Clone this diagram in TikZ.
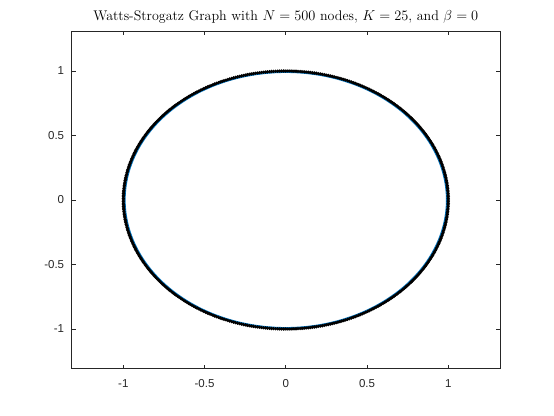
\documentclass[tikz,border=0pt]{standalone}
\usepackage{fontspec}
\newfontfamily\axisfont{Liberation Sans}
\definecolor{axisgray}{RGB}{38,38,38}
\definecolor{edgeblue}{RGB}{0,114,189}
\tikzset{
  ticklabel/.style={font=\axisfont\fontsize{11.5}{13}\selectfont, text=axisgray, inner sep=0pt},
  plottitle/.style={font=\fontsize{14}{16}\selectfont, inner sep=0pt}
}
\begin{document}
\begin{tikzpicture}[x=162.5pt,y=129pt]
\useasboundingbox (-1.7588,-1.6667) rectangle (1.6505,1.5504);
\foreach \i in {0,...,524} \coordinate (n\i) at ({\i*0.72}:1);
\draw[edgeblue, line width=0.7pt] \foreach \i in {0,...,499} {
  \foreach \k [evaluate=\k as \j using int(\i+\k)] in {1,...,25} { (n\i) -- (n\j) }
};
\foreach \i in {0,...,499} \fill (n\i) circle[radius=1.8pt];
\draw[axisgray, line width=0.75pt] (-1.318,-1.308) rectangle (1.318,1.308);
\foreach \x in {-1,-0.5,0,0.5,1} {
  \draw[axisgray, line width=0.75pt] (\x,-1.308) -- (\x,-1.277) (\x,1.308) -- (\x,1.277);
  \node[ticklabel] at (\x,-1.426) {\x};
}
\foreach \y in {-1,-0.5,0,0.5,1} {
  \draw[axisgray, line width=0.75pt] (-1.318,\y) -- (-1.293,\y) (1.318,\y) -- (1.293,\y);
  \node[ticklabel, anchor=east] at (-1.363,\y) {\y};
}
\node[plottitle] (title) at (0,1.419) {Watts-Strogatz Graph with $N=500$ nodes, $K=25$, and $\beta=0$};
\end{tikzpicture}
\end{document}
